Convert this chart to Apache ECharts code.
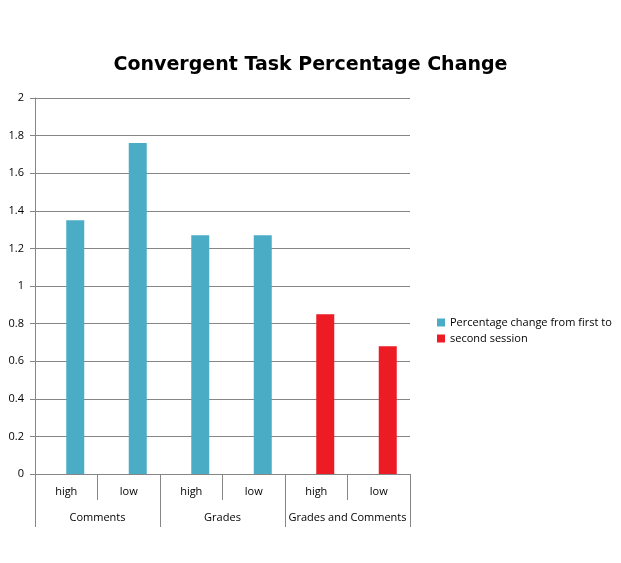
<!DOCTYPE html>
<html><head><meta charset="utf-8">
<script src="https://cdn.jsdelivr.net/npm/echarts@6/dist/echarts.min.js"></script>
<style>html,body{margin:0;padding:0;background:#fff}#c{width:621px;height:563px}</style>
</head><body><div id="c"></div>
<script>
const levels = ["high","low","high","low","high","low"];
const groups = ["Comments","Grades","Grades and Comments"];
const seriesNames = ["Percentage change from first to","second session"];
const tealValues = [1.35,1.76,1.27,1.27,null,null];
const redValues = [null,null,null,null,0.85,0.68];
const emptyValues = [null,null,null,null,null,null];
const yTicks = {min:0,max:2,interval:0.2};

const font = "'Open Sans', 'DejaVu Sans', sans-serif";
const chart = echarts.init(document.getElementById('c'));
chart.setOption({
  animation:false,
  backgroundColor:'#fff',
  title:{text:'Convergent Task Percentage Change',left:'center',top:51,
    textStyle:{fontFamily:"'DejaVu Sans', sans-serif",fontWeight:'bold',fontSize:19,color:'#000'}},
  legend:{orient:'vertical',left:432,top:312,itemWidth:8,itemHeight:8,itemGap:5,
    icon:'rect',textStyle:{fontFamily:font,fontSize:11,color:'#000'},
    data:seriesNames},
  grid:{left:35,right:211,top:98,bottom:89},
  xAxis:[
    {type:'category',data:levels,position:'bottom',
      axisLine:{lineStyle:{color:'#868686'}},
      axisTick:{show:true,interval:0,length:26,lineStyle:{color:'#868686'}},
      axisLabel:{interval:0,margin:12,fontFamily:font,fontSize:11,color:'#000'}},
    {type:'category',data:groups,position:'bottom',
      axisLine:{show:false},
      axisTick:{show:true,interval:0,length:53,lineStyle:{color:'#868686'}},
      axisLabel:{interval:0,margin:38,fontFamily:font,fontSize:11,color:'#000'}}
  ],
  yAxis:{type:'value',min:yTicks.min,max:yTicks.max,interval:yTicks.interval,
    axisLine:{show:true,lineStyle:{color:'#868686'}},
    axisTick:{show:true,length:5,lineStyle:{color:'#868686'}},
    splitLine:{lineStyle:{color:'#868686'}},
    axisLabel:{margin:11,fontFamily:font,fontSize:11,color:'#000'}},
  series:[
    {name:'blank',type:'bar',xAxisIndex:0,barWidth:18,barGap:'0%',data:emptyValues},
    {name:seriesNames[0],type:'bar',stack:'s',xAxisIndex:0,barWidth:18,barGap:'0%',data:tealValues,itemStyle:{color:'#4BACC6'}},
    {name:seriesNames[1],type:'bar',stack:'s',xAxisIndex:0,barWidth:18,barGap:'0%',data:redValues,itemStyle:{color:'#ED1C24'}}
  ]
});
</script></body></html>
